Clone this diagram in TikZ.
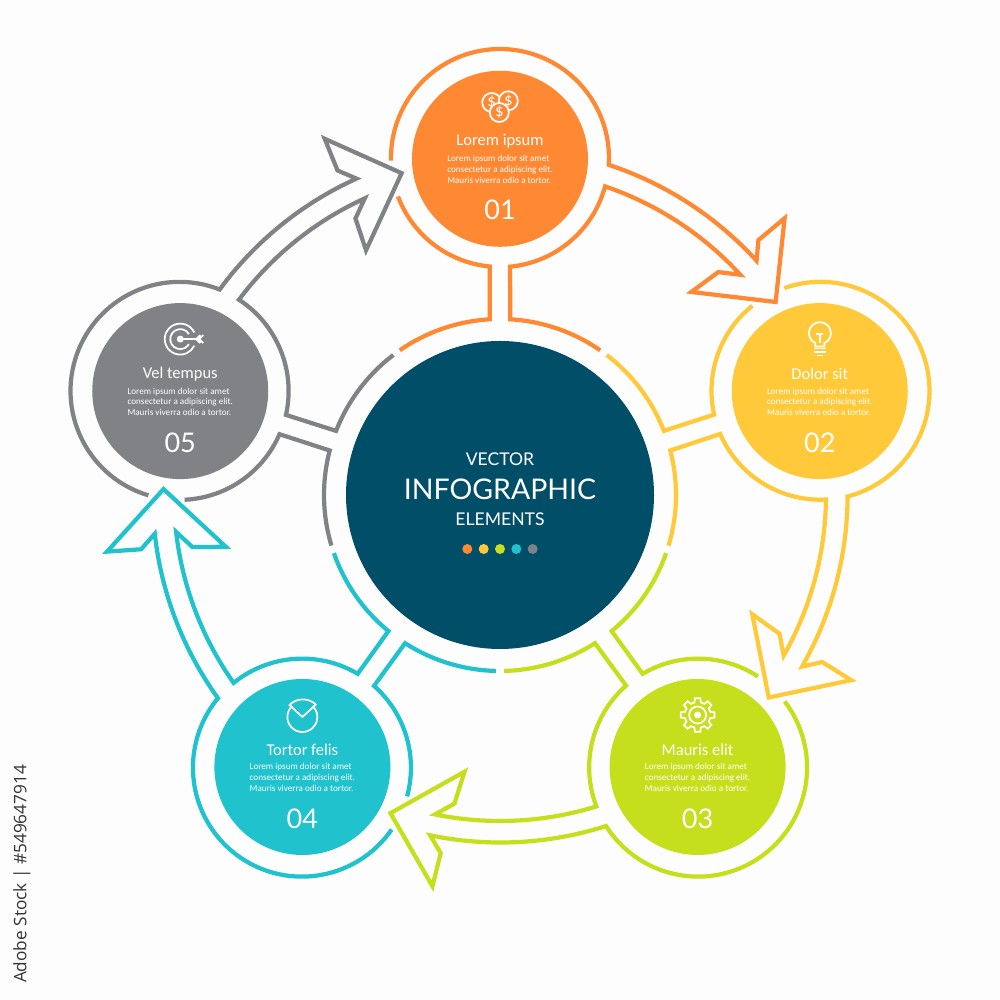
\documentclass[tikz,border=0pt]{standalone}
\usepackage{fontspec}
\setmainfont{Carlito}
\newfontfamily\latofont{Lato}
\newfontfamily\idfont{Open Sans}
\definecolor{colone}{HTML}{FF8833}
\definecolor{coltwo}{HTML}{FFC93A}
\definecolor{colthree}{HTML}{C6DF1C}
\definecolor{colfour}{HTML}{1FC2CD}
\definecolor{colfive}{HTML}{808285}
\definecolor{navy}{HTML}{004E68}
\definecolor{paper}{HTML}{FDFDFD}
\tikzset{
  >=latex,
  outline/.style={line width=1.2pt,miter limit=6},
  disk/.style={circle,minimum size=1.76cm,inner sep=0pt},
  dot/.style={circle,minimum size=.1cm,inner sep=0pt},
  icon/.style={white,line width=.5pt},
  coin/.style={circle,draw=white,line width=.5pt,fill=colone,text=white,inner sep=0pt,
    minimum size=.19cm,font=\fontsize{4.8}{4.8}\selectfont},
  headtext/.style={white,font=\fontsize{4.7}{4.7}\selectfont},
  bodytext/.style={white,align=left,inner sep=0pt,
    font=\fontsize{2.6}{3.04}\selectfont},
  numtext/.style={white,font=\latofont\fontsize{7.7}{7.7}\selectfont},
}
\begin{document}
\begin{tikzpicture}
  \useasboundingbox[fill=paper] (-5,-5.05) rectangle (5,4.95);
  % rings, connecting stems and arrows of all five steps
  \foreach \rot/\col in {0/colone,-72/coltwo,-144/colthree,-216/colfour,-288/colfive}{
    \begin{scope}[rotate=\rot]
      \draw[outline,\col] (124.7:1.76) arc[start angle=124.7,end angle=93.36,radius=1.76]
        -- (-.103,2.285) arc[start angle=264.6,end angle=200.7,radius=1.09];
      \draw[outline,\col] (-1.0897,3.343) arc[start angle=181.4,end angle=-3.6,radius=1.09]
        arc[start angle=71.75,end angle=42.3,radius=3.465]
        -- (44.6:3.63) -- (44.2:3.97) -- (35:3.365) -- (46.7:2.79) -- (45.6:3.12) -- (42.5:3.26)
        arc[start angle=42.5,end angle=71.2,radius=3.26]
        arc[start angle=-15,end angle=-84.6,radius=1.09]
        -- (86.64:1.76) arc[start angle=86.64,end angle=55.3,radius=1.76];
    \end{scope}
  }
  % central circle
  \node[circle,fill=navy,minimum size=3.08cm,inner sep=0pt] (hub) at (0,0) {};
  \node[white,font=\latofont\fontsize{5}{5}\selectfont] (vector) at (0,.36) {VECTOR};
  \node[white,font=\latofont\fontsize{8.1}{8.1}\selectfont] (infographic) at (0,.06) {INFOGRAPHIC};
  \node[white,font=\latofont\fontsize{5}{5}\selectfont] (elements) at (0,-.24) {ELEMENTS};
  \node[dot,fill=colone] (dota) at (-.327,-.54) {};
  \node[dot,fill=coltwo] (dotb) at (-.163,-.54) {};
  \node[dot,fill=colthree] (dotc) at (0,-.54) {};
  \node[dot,fill=colfour] (dotd) at (.163,-.54) {};
  \node[dot,fill=colfive] (dote) at (.327,-.54) {};
  % the five steps
  \foreach \i/\ang/\col/\head in {1/90/colone/Lorem ipsum,2/18/coltwo/Dolor sit,
    3/-54/colthree/Mauris elit,4/-126/colfour/Tortor felis,5/162/colfive/Vel tempus}{
    \node[disk,fill=\col] (disk\i) at (\ang:3.362) {};
    \node[headtext] (head\i) at ([yshift=.175cm]disk\i.center) {\head};
    \node[bodytext] (body\i) at ([yshift=-.105cm]disk\i.center) {Lorem ipsum dolor sit amet\\
      consectetur a adipiscing elit.\\Mauris viverra odio a tortor.};
    \node[numtext] (num\i) at ([yshift=-.515cm]disk\i.center) {0\i};
    \coordinate (icon\i) at ([yshift=.53cm]disk\i.center);
  }
  % coins
  \node[coin] (coinl) at ([shift={(-.083,.033)}]icon1) {\$};
  \node[coin] (coinr) at ([shift={(.083,.05)}]icon1) {\$};
  \node[coin] (coinb) at ([shift={(-.007,-.067)}]icon1) {\$};
  % bulb
  \begin{scope}[shift={(icon2)},yshift=.04cm]
    \draw[icon] (-.045,-.125) -- (-.045,-.09) arc[start angle=245,end angle=-65,radius=.11]
      -- (.045,-.125) -- cycle;
    \draw[icon] (-.035,.0) -- (.035,.0) (0,0) -- (0,-.085);
    \draw[icon] (-.06,-.145) -- (.06,-.145) (-.06,-.18) -- (.06,-.18) (-.03,-.215) -- (.03,-.215);
  \end{scope}
  % gear
  \begin{scope}[shift={(icon3)},yshift=-.01cm]
    \draw[icon] (-14:.13) foreach \a in {0,45,...,315}{
        -- (\a-14:.13) -- (\a-9:.17) -- (\a+9:.17) -- (\a+14:.13) } -- cycle;
    \draw[icon] (0,0) circle (.085);
    \fill[white] (0,0) circle (.035);
  \end{scope}
  % pie
  \begin{scope}[shift={(icon4)},yshift=-.03cm]
    \draw[icon] (0,0) ++(133:.15) arc[start angle=133,end angle=407,radius=.15];
    \draw[icon,line join=round] (-.135,.125) -- (0,0) -- (.135,.125)
      arc[start angle=47,end angle=133,radius=.19] ;
  \end{scope}
  % target
  \begin{scope}[shift={(icon5)},yshift=-.01cm]
    \draw[icon] (25:.155) arc[start angle=25,end angle=335,radius=.155];
    \draw[icon] (30:.1) arc[start angle=30,end angle=330,radius=.1];
    \fill[white] (0,0) circle (.035);
    \draw[icon] (0,0) -- (.2,0) (.2,.04) -- (.16,0) -- (.2,-.04) (.23,.04) -- (.19,0) -- (.23,-.04);
  \end{scope}
  % stamp at the edge
  \node[rotate=90,text=black!80,font=\idfont\fontsize{4.9}{4.9}\selectfont] (stamp) at (-4.78,-3.79) {Adobe Stock | \#549647914};
\end{tikzpicture}
\end{document}
